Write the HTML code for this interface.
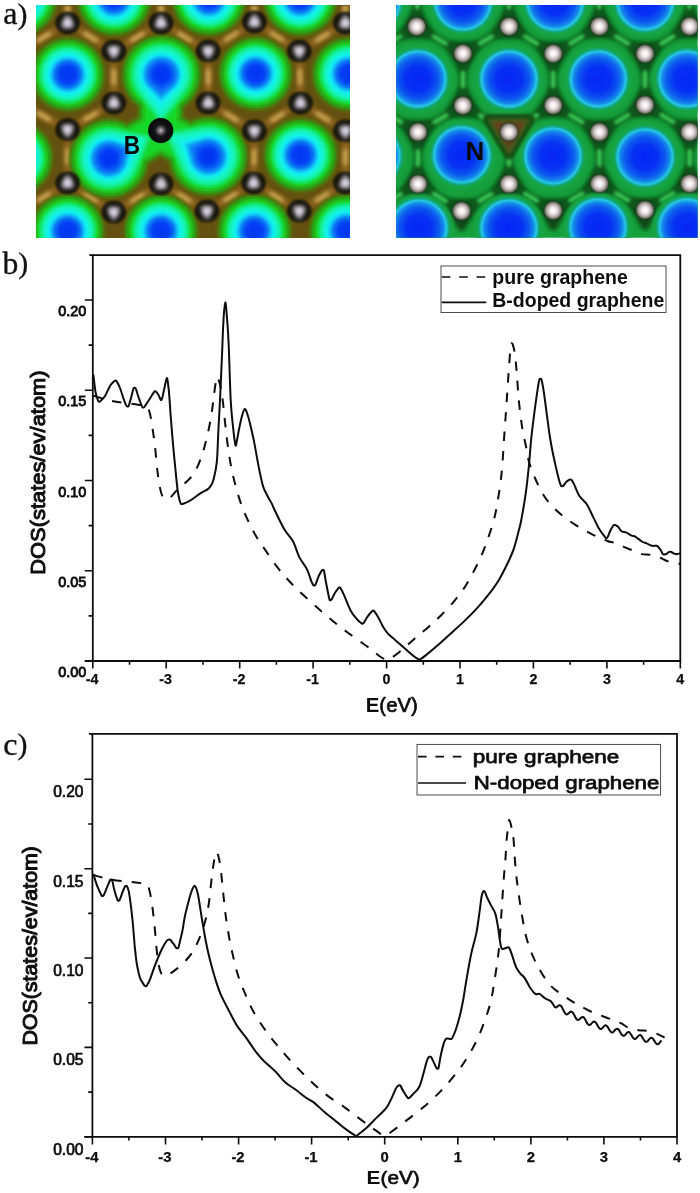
<!DOCTYPE html>
<html><head><meta charset="utf-8"><title>Figure</title>
<style>
html,body{margin:0;padding:0;background:#fff}
svg{display:block}
</style></head><body>
<svg width="700" height="1193" viewBox="0 0 700 1193">
<rect width="700" height="1193" fill="#fff"/>
<defs>
<radialGradient id="hA">
<stop offset="0" stop-color="#0434f2"/>
<stop offset="0.28" stop-color="#0440f4"/>
<stop offset="0.44" stop-color="#0a78f4"/>
<stop offset="0.55" stop-color="#10c4f4"/>
<stop offset="0.64" stop-color="#12f0f0"/>
<stop offset="0.76" stop-color="#14f4c8"/>
<stop offset="0.85" stop-color="#14f098"/>
<stop offset="0.93" stop-color="#14e058"/>
<stop offset="1" stop-color="#14d82c"/>
</radialGradient>
<radialGradient id="hA2">
<stop offset="0" stop-color="#0a8cf4"/>
<stop offset="0.35" stop-color="#10d4f4"/>
<stop offset="0.6" stop-color="#12f0e8"/>
<stop offset="0.8" stop-color="#14eca0"/>
<stop offset="0.95" stop-color="#14dc48"/>
<stop offset="1" stop-color="#14d82c" stop-opacity="0"/>
</radialGradient>
<radialGradient id="hB">
<stop offset="0" stop-color="#0626f6"/>
<stop offset="0.40" stop-color="#0630f4"/>
<stop offset="0.64" stop-color="#0c58ee"/>
<stop offset="0.78" stop-color="#1488ea"/>
<stop offset="0.855" stop-color="#22bce6"/>
<stop offset="0.885" stop-color="#24c8da"/>
<stop offset="0.93" stop-color="#14aa90"/>
<stop offset="1" stop-color="#12a450"/>
</radialGradient>
<radialGradient id="aA" cx="0.5" cy="0.5">
<stop offset="0" stop-color="#e6e2f0"/>
<stop offset="0.45" stop-color="#c4c0cc"/>
<stop offset="0.8" stop-color="#7a7678"/>
<stop offset="1" stop-color="#3a3630" stop-opacity="0"/>
</radialGradient>
<radialGradient id="aB">
<stop offset="0" stop-color="#ffffff"/>
<stop offset="0.28" stop-color="#f4ecee"/>
<stop offset="0.55" stop-color="#c8bec0"/>
<stop offset="0.8" stop-color="#7c7c72"/>
<stop offset="1" stop-color="#2a3a26" stop-opacity="0"/>
</radialGradient>
<radialGradient id="bAt">
<stop offset="0" stop-color="#c8b4c4"/>
<stop offset="0.22" stop-color="#6c6468"/>
<stop offset="0.45" stop-color="#15151a"/>
<stop offset="0.92" stop-color="#060a06"/>
<stop offset="1" stop-color="#041004" stop-opacity="0.2"/>
</radialGradient>
<filter id="bl05" x="-20%" y="-20%" width="140%" height="140%"><feGaussianBlur stdDeviation="0.7"/></filter>
<filter id="bl15" x="-20%" y="-20%" width="140%" height="140%"><feGaussianBlur stdDeviation="1.6"/></filter>
<filter id="bl1" x="-20%" y="-20%" width="140%" height="140%"><feGaussianBlur stdDeviation="1.2"/></filter>
<filter id="bl2" x="-30%" y="-30%" width="160%" height="160%"><feGaussianBlur stdDeviation="2.2"/></filter>
<filter id="bl4" x="-30%" y="-30%" width="160%" height="160%"><feGaussianBlur stdDeviation="4"/></filter>
<clipPath id="cA"><rect x="36" y="5" width="314" height="233"/></clipPath>
<clipPath id="cB"><rect x="396" y="5" width="301.6" height="232.7"/></clipPath>
</defs>
<g clip-path="url(#cA)">
<rect x="30" y="0" width="326" height="244" fill="#645010"/>
<path d="M67.6,23.0 L20.0,51.0M67.6,23.0 L113.8,51.0M67.6,23.0 L67.6,-6.0M161.0,23.0 L113.8,51.0M161.0,23.0 L208.2,51.0M161.0,23.0 L161.0,-6.0M254.4,22.0 L208.2,51.0M254.4,22.0 L299.3,51.0M254.4,22.0 L254.0,-6.0M345.4,23.0 L299.3,51.0M345.4,23.0 L345.0,-6.0M20.0,51.0 L20.0,103.0M113.8,51.0 L113.8,103.0M208.2,51.0 L208.2,103.0M299.3,51.0 L300.5,103.0M20.0,103.0 L67.6,129.6M113.8,103.0 L67.6,129.6M208.2,103.0 L254.4,130.8M300.5,103.0 L254.4,130.8M300.5,103.0 L345.4,130.8M67.6,129.6 L67.6,183.0M254.4,130.8 L253.6,183.0M345.4,130.8 L345.4,183.0M67.6,183.0 L20.0,211.0M67.6,183.0 L113.8,212.0M161.0,184.0 L113.8,212.0M161.0,184.0 L207.0,211.0M253.6,183.0 L207.0,211.0M253.6,183.0 L299.3,211.0M345.4,183.0 L299.3,211.0" stroke="#8c621c" stroke-width="7" fill="none" filter="url(#bl2)"/>
<path d="M49.4,33.7 L38.2,40.3M85.1,33.6 L96.3,40.4M67.6,15.0 L67.6,2.0M143.0,33.7 L131.8,40.3M179.0,33.7 L190.2,40.3M161.0,15.0 L161.0,2.0M236.8,33.0 L225.8,40.0M271.4,33.0 L282.3,40.0M254.3,14.5 L254.1,1.5M327.9,33.6 L316.8,40.4M345.3,15.0 L345.1,2.0M20.0,70.5 L20.0,83.5M113.8,70.5 L113.8,83.5M208.2,70.5 L208.2,83.5M299.8,70.5 L300.0,83.5M38.1,113.1 L49.5,119.5M96.3,113.1 L85.1,119.5M225.7,113.5 L236.9,120.3M283.0,113.5 L271.9,120.3M317.4,113.5 L328.5,120.3M67.6,149.8 L67.6,162.8M254.1,150.4 L253.9,163.4M345.4,150.4 L345.4,163.4M49.4,193.7 L38.2,200.3M85.2,194.0 L96.2,201.0M143.0,194.7 L131.8,201.3M178.4,194.2 L189.6,200.8M235.9,193.7 L224.7,200.3M270.9,193.6 L282.0,200.4M327.9,193.6 L316.8,200.4" stroke="#dcba60" stroke-width="3.8" stroke-linecap="round" fill="none" filter="url(#bl2)"/>
<g filter="url(#bl15)" fill="#487c0e" stroke="#487c0e">
<circle cx="20.0" cy="-1.0" r="37.6" stroke="none"/>
<circle cx="114.0" cy="-1.0" r="37.6" stroke="none"/>
<circle cx="209.0" cy="-1.0" r="37.6" stroke="none"/>
<circle cx="300.0" cy="-1.0" r="37.6" stroke="none"/>
<circle cx="-26.0" cy="74.5" r="37.6" stroke="none"/>
<circle cx="67.8" cy="74.5" r="37.6" stroke="none"/>
<circle cx="161.5" cy="74.5" r="40.4" stroke="none"/>
<circle cx="255.6" cy="73.5" r="37.6" stroke="none"/>
<circle cx="349.0" cy="74.0" r="37.6" stroke="none"/>
<circle cx="16.0" cy="158.0" r="37.6" stroke="none"/>
<circle cx="109.0" cy="158.5" r="40.4" stroke="none"/>
<circle cx="208.2" cy="156.3" r="40.4" stroke="none"/>
<circle cx="300.5" cy="155.0" r="37.6" stroke="none"/>
<circle cx="394.0" cy="156.0" r="37.6" stroke="none"/>
<circle cx="67.6" cy="231.0" r="37.6" stroke="none"/>
<circle cx="161.0" cy="231.0" r="37.6" stroke="none"/>
<circle cx="254.4" cy="231.0" r="37.6" stroke="none"/>
<circle cx="346.5" cy="231.0" r="37.6" stroke="none"/>
<path d="M160.7,130.5 L161.3,92 M160.7,130.5 L124,151 M160.7,130.5 L196,150" stroke-width="47" stroke-linecap="round" fill="none"/>
</g>
<g filter="url(#bl05)" fill="#2aa012" stroke="#2aa012">
<circle cx="20.0" cy="-1.0" r="35.0" stroke="none"/>
<circle cx="114.0" cy="-1.0" r="35.0" stroke="none"/>
<circle cx="209.0" cy="-1.0" r="35.0" stroke="none"/>
<circle cx="300.0" cy="-1.0" r="35.0" stroke="none"/>
<circle cx="-26.0" cy="74.5" r="35.0" stroke="none"/>
<circle cx="67.8" cy="74.5" r="35.0" stroke="none"/>
<circle cx="161.5" cy="74.5" r="37.8" stroke="none"/>
<circle cx="255.6" cy="73.5" r="35.0" stroke="none"/>
<circle cx="349.0" cy="74.0" r="35.0" stroke="none"/>
<circle cx="16.0" cy="158.0" r="35.0" stroke="none"/>
<circle cx="109.0" cy="158.5" r="37.8" stroke="none"/>
<circle cx="208.2" cy="156.3" r="37.8" stroke="none"/>
<circle cx="300.5" cy="155.0" r="35.0" stroke="none"/>
<circle cx="394.0" cy="156.0" r="35.0" stroke="none"/>
<circle cx="67.6" cy="231.0" r="35.0" stroke="none"/>
<circle cx="161.0" cy="231.0" r="35.0" stroke="none"/>
<circle cx="254.4" cy="231.0" r="35.0" stroke="none"/>
<circle cx="346.5" cy="231.0" r="35.0" stroke="none"/>
<path d="M160.7,130.5 L161.3,92 M160.7,130.5 L124,151 M160.7,130.5 L196,150" stroke-width="42" stroke-linecap="round" fill="none"/>
</g>
<g filter="url(#bl05)" fill="#22c21c" stroke="#22c21c">
<circle cx="20.0" cy="-1.0" r="32.2" stroke="none"/>
<circle cx="114.0" cy="-1.0" r="32.2" stroke="none"/>
<circle cx="209.0" cy="-1.0" r="32.2" stroke="none"/>
<circle cx="300.0" cy="-1.0" r="32.2" stroke="none"/>
<circle cx="-26.0" cy="74.5" r="32.2" stroke="none"/>
<circle cx="67.8" cy="74.5" r="32.2" stroke="none"/>
<circle cx="161.5" cy="74.5" r="35.0" stroke="none"/>
<circle cx="255.6" cy="73.5" r="32.2" stroke="none"/>
<circle cx="349.0" cy="74.0" r="32.2" stroke="none"/>
<circle cx="16.0" cy="158.0" r="32.2" stroke="none"/>
<circle cx="109.0" cy="158.5" r="35.0" stroke="none"/>
<circle cx="208.2" cy="156.3" r="35.0" stroke="none"/>
<circle cx="300.5" cy="155.0" r="32.2" stroke="none"/>
<circle cx="394.0" cy="156.0" r="32.2" stroke="none"/>
<circle cx="67.6" cy="231.0" r="32.2" stroke="none"/>
<circle cx="161.0" cy="231.0" r="32.2" stroke="none"/>
<circle cx="254.4" cy="231.0" r="32.2" stroke="none"/>
<circle cx="346.5" cy="231.0" r="32.2" stroke="none"/>
<path d="M160.7,130.5 L161.3,92 M160.7,130.5 L124,151 M160.7,130.5 L196,150" stroke-width="37" stroke-linecap="round" fill="none"/>
</g>
<g filter="url(#bl05)" fill="#14d82c" stroke="#14d82c">
<circle cx="20.0" cy="-1.0" r="29.6" stroke="none"/>
<circle cx="114.0" cy="-1.0" r="29.6" stroke="none"/>
<circle cx="209.0" cy="-1.0" r="29.6" stroke="none"/>
<circle cx="300.0" cy="-1.0" r="29.6" stroke="none"/>
<circle cx="-26.0" cy="74.5" r="29.6" stroke="none"/>
<circle cx="67.8" cy="74.5" r="29.6" stroke="none"/>
<circle cx="161.5" cy="74.5" r="32.4" stroke="none"/>
<circle cx="255.6" cy="73.5" r="29.6" stroke="none"/>
<circle cx="349.0" cy="74.0" r="29.6" stroke="none"/>
<circle cx="16.0" cy="158.0" r="29.6" stroke="none"/>
<circle cx="109.0" cy="158.5" r="32.4" stroke="none"/>
<circle cx="208.2" cy="156.3" r="32.4" stroke="none"/>
<circle cx="300.5" cy="155.0" r="29.6" stroke="none"/>
<circle cx="394.0" cy="156.0" r="29.6" stroke="none"/>
<circle cx="67.6" cy="231.0" r="29.6" stroke="none"/>
<circle cx="161.0" cy="231.0" r="29.6" stroke="none"/>
<circle cx="254.4" cy="231.0" r="29.6" stroke="none"/>
<circle cx="346.5" cy="231.0" r="29.6" stroke="none"/>
<path d="M160.7,130.5 L161.3,92 M160.7,130.5 L124,151 M160.7,130.5 L196,150" stroke-width="31" stroke-linecap="round" fill="none"/>
</g>
<circle cx="20.0" cy="-1.0" r="30" fill="url(#hA)"/>
<circle cx="114.0" cy="-1.0" r="30" fill="url(#hA)"/>
<circle cx="209.0" cy="-1.0" r="30" fill="url(#hA)"/>
<circle cx="300.0" cy="-1.0" r="30" fill="url(#hA)"/>
<circle cx="-26.0" cy="74.5" r="30" fill="url(#hA)"/>
<circle cx="67.8" cy="74.5" r="30" fill="url(#hA)"/>
<circle cx="255.6" cy="73.5" r="30" fill="url(#hA)"/>
<circle cx="349.0" cy="74.0" r="30" fill="url(#hA)"/>
<circle cx="16.0" cy="158.0" r="30" fill="url(#hA)"/>
<circle cx="300.5" cy="155.0" r="30" fill="url(#hA)"/>
<circle cx="394.0" cy="156.0" r="30" fill="url(#hA)"/>
<circle cx="67.6" cy="231.0" r="30" fill="url(#hA)"/>
<circle cx="161.0" cy="231.0" r="30" fill="url(#hA)"/>
<circle cx="254.4" cy="231.0" r="30" fill="url(#hA)"/>
<circle cx="346.5" cy="231.0" r="30" fill="url(#hA)"/>
<path d="M160.8,124.2 L137.1,93.1 A30.7,30.7 0 1 1 185.4,93.8 ZM151.6,135.4 L137.4,170.1 A30.7,30.7 0 1 1 114.8,128.4 ZM164.5,132.6 L203.1,126.0 A30.7,30.7 0 1 1 180.0,168.5 Z" fill="#14e058" stroke="#14e058" stroke-width="1.5" stroke-linejoin="round" filter="url(#bl1)"/>
<path d="M160.9,119.9 L139.2,91.5 A28.1,28.1 0 1 1 183.3,92.1 ZM148.0,137.4 L135.0,169.1 A28.1,28.1 0 1 1 114.3,130.9 ZM168.3,134.6 L203.5,128.6 A28.1,28.1 0 1 1 182.5,167.4 Z" fill="#14f098" stroke="#14f098" stroke-width="1.5" stroke-linejoin="round" filter="url(#bl1)"/>
<path d="M160.9,115.1 L141.5,89.7 A25.1,25.1 0 1 1 181.0,90.3 ZM143.8,139.6 L132.2,168.0 A25.1,25.1 0 1 1 113.7,133.9 ZM172.5,136.9 L204.0,131.6 A25.1,25.1 0 1 1 185.2,166.2 Z" fill="#14f4c8" stroke="#14f4c8" stroke-width="1.5" stroke-linejoin="round" filter="url(#bl1)"/>
<path d="M161.0,106.6 L145.4,88.2 A21.1,21.1 0 1 1 177.2,88.6 ZM136.6,143.5 L128.9,165.5 A21.1,21.1 0 1 1 114.0,138.0 ZM180.0,141.0 L203.6,135.7 A21.1,21.1 0 1 1 188.4,163.6 Z" fill="#12f0f0" stroke="#12f0f0" stroke-width="1.5" stroke-linejoin="round" filter="url(#bl1)"/>
<path d="M161.1,100.3 L148.4,87.1 A18.2,18.2 0 1 1 174.2,87.5 ZM131.3,146.4 L126.5,163.5 A18.2,18.2 0 1 1 114.4,141.2 ZM185.5,144.0 L203.1,138.9 A18.2,18.2 0 1 1 190.8,161.5 Z" fill="#10c4f4" stroke="#10c4f4" stroke-width="1.5" stroke-linejoin="round" filter="url(#bl1)"/>
<path d="M161.2,96.6 L150.3,86.3 A16.3,16.3 0 1 1 172.4,86.6 ZM128.2,148.1 L124.8,162.3 A16.3,16.3 0 1 1 114.5,143.2 ZM188.7,145.7 L202.9,140.9 A16.3,16.3 0 1 1 192.4,160.3 Z" fill="#0d9cf4" stroke="#0d9cf4" stroke-width="1.5" stroke-linejoin="round" filter="url(#bl1)"/>
<path d="M161.2,93.4 L152.0,85.5 A14.5,14.5 0 1 1 170.6,85.8 ZM125.5,149.6 L123.3,161.2 A14.5,14.5 0 1 1 114.5,145.1 ZM191.6,147.3 L202.8,142.8 A14.5,14.5 0 1 1 194.0,159.1 Z" fill="#0a78f4" stroke="#0a78f4" stroke-width="1.5" stroke-linejoin="round" filter="url(#bl1)"/>
<path d="M161.3,88.9 L154.6,84.2 A11.9,11.9 0 1 1 168.1,84.4 ZM121.6,151.7 L120.8,159.7 A11.9,11.9 0 1 1 114.5,147.9 ZM195.5,149.4 L202.8,145.7 A11.9,11.9 0 1 1 196.4,157.6 Z" fill="#075cf4" stroke="#075cf4" stroke-width="1.5" stroke-linejoin="round" filter="url(#bl1)"/>
<path d="M161.3,85.1 L156.8,82.5 A9.2,9.2 0 1 1 165.9,82.6 ZM118.3,153.4 L118.2,158.7 A9.2,9.2 0 1 1 113.9,150.7 ZM198.9,151.2 L203.3,148.5 A9.2,9.2 0 1 1 199.0,156.5 Z" fill="#0440f4" stroke="#0440f4" stroke-width="1.5" stroke-linejoin="round" filter="url(#bl1)"/>
<path d="M161.4,80.8 L158.7,79.2 A5.5,5.5 0 1 1 164.1,79.3 ZM114.6,155.5 L114.5,158.6 A5.5,5.5 0 1 1 111.9,153.8 ZM202.6,153.3 L205.3,151.6 A5.5,5.5 0 1 1 202.7,156.4 Z" fill="#0434f2" stroke="#0434f2" stroke-width="1.5" stroke-linejoin="round" filter="url(#bl1)"/>
<g filter="url(#bl1)">
<ellipse cx="67.6" cy="23.0" rx="12.3" ry="11.3" fill="#17120a"/>
<ellipse cx="161.0" cy="23.0" rx="12.3" ry="11.3" fill="#17120a"/>
<ellipse cx="254.4" cy="22.0" rx="12.3" ry="11.3" fill="#17120a"/>
<ellipse cx="345.4" cy="23.0" rx="12.3" ry="11.3" fill="#17120a"/>
<ellipse cx="20.0" cy="51.0" rx="12.3" ry="11.3" fill="#17120a"/>
<ellipse cx="113.8" cy="51.0" rx="12.3" ry="11.3" fill="#17120a"/>
<ellipse cx="208.2" cy="51.0" rx="12.3" ry="11.3" fill="#17120a"/>
<ellipse cx="299.3" cy="51.0" rx="12.3" ry="11.3" fill="#17120a"/>
<ellipse cx="20.0" cy="103.0" rx="12.3" ry="11.3" fill="#17120a"/>
<ellipse cx="113.8" cy="103.0" rx="12.3" ry="11.3" fill="#17120a"/>
<ellipse cx="208.2" cy="103.0" rx="12.3" ry="11.3" fill="#17120a"/>
<ellipse cx="300.5" cy="103.0" rx="12.3" ry="11.3" fill="#17120a"/>
<ellipse cx="67.6" cy="129.6" rx="12.3" ry="11.3" fill="#17120a"/>
<ellipse cx="254.4" cy="130.8" rx="12.3" ry="11.3" fill="#17120a"/>
<ellipse cx="345.4" cy="130.8" rx="12.3" ry="11.3" fill="#17120a"/>
<ellipse cx="67.6" cy="183.0" rx="12.3" ry="11.3" fill="#17120a"/>
<ellipse cx="161.0" cy="184.0" rx="12.3" ry="11.3" fill="#17120a"/>
<ellipse cx="253.6" cy="183.0" rx="12.3" ry="11.3" fill="#17120a"/>
<ellipse cx="345.4" cy="183.0" rx="12.3" ry="11.3" fill="#17120a"/>
<ellipse cx="20.0" cy="211.0" rx="12.3" ry="11.3" fill="#17120a"/>
<ellipse cx="113.8" cy="212.0" rx="12.3" ry="11.3" fill="#17120a"/>
<ellipse cx="207.0" cy="211.0" rx="12.3" ry="11.3" fill="#17120a"/>
<ellipse cx="299.3" cy="211.0" rx="12.3" ry="11.3" fill="#17120a"/>
<ellipse cx="67.6" cy="262.0" rx="12.3" ry="11.3" fill="#17120a"/>
<ellipse cx="161.0" cy="262.0" rx="12.3" ry="11.3" fill="#17120a"/>
<ellipse cx="254.0" cy="262.0" rx="12.3" ry="11.3" fill="#17120a"/>
<ellipse cx="345.0" cy="262.0" rx="12.3" ry="11.3" fill="#17120a"/>
<ellipse cx="67.6" cy="-6.0" rx="12.3" ry="11.3" fill="#17120a"/>
<ellipse cx="161.0" cy="-6.0" rx="12.3" ry="11.3" fill="#17120a"/>
<ellipse cx="254.0" cy="-6.0" rx="12.3" ry="11.3" fill="#17120a"/>
<ellipse cx="345.0" cy="-6.0" rx="12.3" ry="11.3" fill="#17120a"/>
</g>
<path d="M67.6,17.4 L63.9,25.6 L71.3,25.6 ZM161.0,17.4 L157.3,25.6 L164.7,25.6 ZM254.4,16.4 L250.7,24.6 L258.1,24.6 ZM345.4,17.4 L341.7,25.6 L349.1,25.6 ZM20.0,56.5 L16.3,48.4 L23.7,48.4 ZM113.8,56.5 L110.1,48.4 L117.5,48.4 ZM208.2,56.5 L204.5,48.4 L211.9,48.4 ZM299.3,56.5 L295.6,48.4 L303.0,48.4 ZM20.0,97.5 L16.3,105.6 L23.7,105.6 ZM113.8,97.5 L110.1,105.6 L117.5,105.6 ZM208.2,97.5 L204.5,105.6 L211.9,105.6 ZM300.5,97.5 L296.8,105.6 L304.2,105.6 ZM67.6,135.2 L63.9,127.0 L71.3,127.0 ZM254.4,136.4 L250.7,128.2 L258.1,128.2 ZM345.4,136.4 L341.7,128.2 L349.1,128.2 ZM67.6,177.4 L63.9,185.6 L71.3,185.6 ZM161.0,178.4 L157.3,186.6 L164.7,186.6 ZM253.6,177.4 L249.9,185.6 L257.3,185.6 ZM345.4,177.4 L341.7,185.6 L349.1,185.6 ZM20.0,216.6 L16.3,208.4 L23.7,208.4 ZM113.8,217.6 L110.1,209.4 L117.5,209.4 ZM207.0,216.6 L203.3,208.4 L210.7,208.4 ZM299.3,216.6 L295.6,208.4 L303.0,208.4 ZM67.6,267.6 L63.9,259.4 L71.3,259.4 ZM161.0,267.6 L157.3,259.4 L164.7,259.4 ZM254.0,267.6 L250.3,259.4 L257.7,259.4 ZM345.0,267.6 L341.3,259.4 L348.7,259.4 ZM67.6,-0.4 L63.9,-8.6 L71.3,-8.6 ZM161.0,-0.4 L157.3,-8.6 L164.7,-8.6 ZM254.0,-0.4 L250.3,-8.6 L257.7,-8.6 ZM345.0,-0.4 L341.3,-8.6 L348.7,-8.6 Z" fill="#9a969e" stroke="#9a969e" stroke-width="5" stroke-linejoin="round" filter="url(#bl2)"/>
<g filter="url(#bl2)">
<circle cx="67.6" cy="23.0" r="3.8" fill="#e0dcee"/>
<circle cx="161.0" cy="23.0" r="3.8" fill="#e0dcee"/>
<circle cx="254.4" cy="22.0" r="3.8" fill="#e0dcee"/>
<circle cx="345.4" cy="23.0" r="3.8" fill="#e0dcee"/>
<circle cx="20.0" cy="51.0" r="3.8" fill="#e0dcee"/>
<circle cx="113.8" cy="51.0" r="3.8" fill="#e0dcee"/>
<circle cx="208.2" cy="51.0" r="3.8" fill="#e0dcee"/>
<circle cx="299.3" cy="51.0" r="3.8" fill="#e0dcee"/>
<circle cx="20.0" cy="103.0" r="3.8" fill="#e0dcee"/>
<circle cx="113.8" cy="103.0" r="3.8" fill="#e0dcee"/>
<circle cx="208.2" cy="103.0" r="3.8" fill="#e0dcee"/>
<circle cx="300.5" cy="103.0" r="3.8" fill="#e0dcee"/>
<circle cx="67.6" cy="129.6" r="3.8" fill="#e0dcee"/>
<circle cx="254.4" cy="130.8" r="3.8" fill="#e0dcee"/>
<circle cx="345.4" cy="130.8" r="3.8" fill="#e0dcee"/>
<circle cx="67.6" cy="183.0" r="3.8" fill="#e0dcee"/>
<circle cx="161.0" cy="184.0" r="3.8" fill="#e0dcee"/>
<circle cx="253.6" cy="183.0" r="3.8" fill="#e0dcee"/>
<circle cx="345.4" cy="183.0" r="3.8" fill="#e0dcee"/>
<circle cx="20.0" cy="211.0" r="3.8" fill="#e0dcee"/>
<circle cx="113.8" cy="212.0" r="3.8" fill="#e0dcee"/>
<circle cx="207.0" cy="211.0" r="3.8" fill="#e0dcee"/>
<circle cx="299.3" cy="211.0" r="3.8" fill="#e0dcee"/>
<circle cx="67.6" cy="262.0" r="3.8" fill="#e0dcee"/>
<circle cx="161.0" cy="262.0" r="3.8" fill="#e0dcee"/>
<circle cx="254.0" cy="262.0" r="3.8" fill="#e0dcee"/>
<circle cx="345.0" cy="262.0" r="3.8" fill="#e0dcee"/>
<circle cx="67.6" cy="-6.0" r="3.8" fill="#e0dcee"/>
<circle cx="161.0" cy="-6.0" r="3.8" fill="#e0dcee"/>
<circle cx="254.0" cy="-6.0" r="3.8" fill="#e0dcee"/>
<circle cx="345.0" cy="-6.0" r="3.8" fill="#e0dcee"/>
</g>
<circle cx="160.7" cy="130.5" r="13" fill="url(#bAt)"/>
</g>
<text x="123.7" y="154" font-family="'Liberation Sans',sans-serif" font-weight="bold" font-size="25.5" fill="#0a0a0a" textLength="16.3" lengthAdjust="spacingAndGlyphs">B</text>
<g clip-path="url(#cB)">
<rect x="390" y="0" width="314" height="244" fill="#16a03c"/>
<path d="M416.7,10.5 L402.8,34.5 L430.6,34.5 ZM509.0,10.5 L495.1,34.5 L522.9,34.5 ZM599.4,10.3 L585.5,34.3 L613.3,34.3 ZM689.7,10.3 L675.8,34.3 L703.6,34.3 ZM462.9,69.5 L449.0,45.5 L476.8,45.5 ZM553.2,69.6 L539.3,45.6 L567.1,45.6 ZM645.0,69.7 L631.1,45.7 L658.9,45.7 ZM462.9,89.5 L449.0,113.5 L476.8,113.5 ZM553.2,89.3 L539.3,113.3 L567.1,113.3 ZM645.0,89.0 L631.1,113.0 L658.9,113.0 ZM418.0,148.0 L404.1,124.0 L431.9,124.0 ZM599.4,148.0 L585.5,124.0 L613.3,124.0 ZM689.7,148.0 L675.8,124.0 L703.6,124.0 ZM418.0,168.0 L404.1,192.0 L431.9,192.0 ZM509.0,168.0 L495.1,192.0 L522.9,192.0 ZM599.4,167.6 L585.5,191.6 L613.3,191.6 ZM689.7,167.6 L675.8,191.6 L703.6,191.6 ZM461.6,227.0 L447.7,203.0 L475.5,203.0 ZM553.2,226.5 L539.3,202.5 L567.1,202.5 ZM645.0,226.0 L631.1,202.0 L658.9,202.0 ZM372.0,69.5 L358.1,45.5 L385.9,45.5 ZM372.0,89.5 L358.1,113.5 L385.9,113.5 ZM372.0,227.0 L358.1,203.0 L385.9,203.0 ZM736.0,69.5 L722.1,45.5 L749.9,45.5 ZM736.0,89.0 L722.1,113.0 L749.9,113.0 ZM736.0,226.0 L722.1,202.0 L749.9,202.0 ZM418.0,-9.0 L404.1,-33.0 L431.9,-33.0 ZM509.0,-9.0 L495.1,-33.0 L522.9,-33.0 ZM599.0,-9.0 L585.1,-33.0 L612.9,-33.0 ZM689.0,-9.0 L675.1,-33.0 L702.9,-33.0 ZM418.0,278.0 L404.1,254.0 L431.9,254.0 ZM509.0,278.0 L495.1,254.0 L522.9,254.0 ZM599.0,278.0 L585.1,254.0 L612.9,254.0 ZM689.0,278.0 L675.1,254.0 L702.9,254.0 Z" fill="#0b4613" stroke="#0b4613" stroke-width="8" stroke-linejoin="round" filter="url(#bl2)"/>
<path d="M416.7,26.5 L462.9,53.5M416.7,26.5 L372.0,53.5M416.7,26.5 L418.0,-25.0M509.0,26.5 L462.9,53.5M509.0,26.5 L553.2,53.6M509.0,26.5 L509.0,-25.0M599.4,26.3 L553.2,53.6M599.4,26.3 L645.0,53.7M599.4,26.3 L599.0,-25.0M689.7,26.3 L645.0,53.7M689.7,26.3 L736.0,53.5M689.7,26.3 L689.0,-25.0M462.9,53.5 L462.9,105.5M553.2,53.6 L553.2,105.3M645.0,53.7 L645.0,105.0M462.9,105.5 L418.0,132.0M462.9,105.5 L509.0,132.0M553.2,105.3 L599.4,132.0M553.2,105.3 L509.0,132.0M645.0,105.0 L599.4,132.0M645.0,105.0 L689.7,132.0M418.0,132.0 L418.0,184.0M418.0,132.0 L372.0,105.5M599.4,132.0 L599.4,183.6M689.7,132.0 L689.7,183.6M689.7,132.0 L736.0,105.0M418.0,184.0 L461.6,211.0M418.0,184.0 L372.0,211.0M509.0,184.0 L461.6,211.0M509.0,184.0 L553.2,210.5M509.0,184.0 L509.0,132.0M599.4,183.6 L553.2,210.5M599.4,183.6 L645.0,210.0M689.7,183.6 L645.0,210.0M689.7,183.6 L736.0,210.0M372.0,53.5 L372.0,105.5M736.0,53.5 L736.0,105.0" stroke="#0e5a1c" stroke-width="8" fill="none" filter="url(#bl2)" opacity="0.9"/>
<path d="M433.8,36.5 L445.8,43.5M400.3,36.4 L388.4,43.6M417.2,7.7 L417.5,-6.2M492.0,36.5 L479.9,43.5M525.1,36.4 L537.1,43.7M509.0,7.8 L509.0,-6.2M582.3,36.4 L570.3,43.5M616.2,36.4 L628.2,43.6M599.3,7.6 L599.1,-6.3M673.3,36.3 L661.4,43.7M706.8,36.4 L718.9,43.4M689.4,7.6 L689.3,-6.3M462.9,72.5 L462.9,86.5M553.2,72.5 L553.2,86.5M645.0,72.3 L645.0,86.3M446.5,115.2 L434.4,122.3M479.9,115.3 L492.0,122.2M570.2,115.1 L582.4,122.2M537.1,115.0 L525.1,122.3M628.2,114.9 L616.2,122.1M661.4,114.9 L673.3,122.1M418.0,151.0 L418.0,165.0M401.1,122.2 L388.9,115.3M599.4,150.8 L599.4,164.8M689.7,150.8 L689.7,164.8M706.8,122.0 L718.9,115.0M433.8,193.8 L445.8,201.2M401.0,194.0 L389.0,201.0M491.4,194.0 L479.2,201.0M525.1,193.7 L537.1,200.8M509.0,165.0 L509.0,151.0M582.3,193.5 L570.3,200.6M616.1,193.3 L628.3,200.3M673.4,193.2 L661.3,200.4M706.8,193.3 L718.9,200.3M372.0,72.5 L372.0,86.5M736.0,72.2 L736.0,86.2" stroke="#3acc54" stroke-width="4" stroke-linecap="round" fill="none" filter="url(#bl15)"/>
<g filter="url(#bl15)" fill="#12a444">
<circle cx="372.0" cy="2.0" r="34.6"/>
<circle cx="463.0" cy="2.0" r="34.6"/>
<circle cx="555.0" cy="2.0" r="34.6"/>
<circle cx="645.0" cy="2.0" r="34.6"/>
<circle cx="736.0" cy="2.0" r="34.6"/>
<circle cx="327.0" cy="79.0" r="34.6"/>
<circle cx="418.0" cy="79.0" r="34.6"/>
<circle cx="509.0" cy="79.0" r="34.6"/>
<circle cx="598.3" cy="79.0" r="34.6"/>
<circle cx="687.0" cy="79.0" r="34.6"/>
<circle cx="372.0" cy="156.0" r="34.6"/>
<circle cx="461.6" cy="155.0" r="34.6"/>
<circle cx="553.0" cy="156.0" r="34.6"/>
<circle cx="645.0" cy="157.0" r="34.6"/>
<circle cx="736.0" cy="157.0" r="34.6"/>
<circle cx="419.0" cy="228.0" r="34.6"/>
<circle cx="509.0" cy="228.0" r="34.6"/>
<circle cx="598.0" cy="227.0" r="34.6"/>
<circle cx="687.0" cy="227.0" r="34.6"/>
</g>
<circle cx="372.0" cy="2.0" r="31.5" fill="url(#hB)"/>
<circle cx="463.0" cy="2.0" r="31.5" fill="url(#hB)"/>
<circle cx="555.0" cy="2.0" r="31.5" fill="url(#hB)"/>
<circle cx="645.0" cy="2.0" r="31.5" fill="url(#hB)"/>
<circle cx="736.0" cy="2.0" r="31.5" fill="url(#hB)"/>
<circle cx="327.0" cy="79.0" r="31.5" fill="url(#hB)"/>
<circle cx="418.0" cy="79.0" r="31.5" fill="url(#hB)"/>
<circle cx="509.0" cy="79.0" r="31.5" fill="url(#hB)"/>
<circle cx="598.3" cy="79.0" r="31.5" fill="url(#hB)"/>
<circle cx="687.0" cy="79.0" r="31.5" fill="url(#hB)"/>
<circle cx="372.0" cy="156.0" r="31.5" fill="url(#hB)"/>
<circle cx="461.6" cy="155.0" r="31.5" fill="url(#hB)"/>
<circle cx="553.0" cy="156.0" r="31.5" fill="url(#hB)"/>
<circle cx="645.0" cy="157.0" r="31.5" fill="url(#hB)"/>
<circle cx="736.0" cy="157.0" r="31.5" fill="url(#hB)"/>
<circle cx="419.0" cy="228.0" r="31.5" fill="url(#hB)"/>
<circle cx="509.0" cy="228.0" r="31.5" fill="url(#hB)"/>
<circle cx="598.0" cy="227.0" r="31.5" fill="url(#hB)"/>
<circle cx="687.0" cy="227.0" r="31.5" fill="url(#hB)"/>
<g filter="url(#bl1)">
<path d="M488.5,119.5 L529.5,119.5 L509,154 Z" fill="#195214" stroke="#195214" stroke-width="11" stroke-linejoin="round"/>
<path d="M491,121 L527,121 L509,151.5 Z" fill="#46581a" stroke="#46581a" stroke-width="4" stroke-linejoin="round"/>
<path d="M495.5,123.5 L522.5,123.5 L509,145.5 Z" fill="#66421a" stroke="#66421a" stroke-width="3" stroke-linejoin="round"/>
</g>
<g filter="url(#bl1)">
<circle cx="416.7" cy="26.5" r="9.4" fill="#243420"/>
<circle cx="509.0" cy="26.5" r="9.4" fill="#243420"/>
<circle cx="599.4" cy="26.3" r="9.4" fill="#243420"/>
<circle cx="689.7" cy="26.3" r="9.4" fill="#243420"/>
<circle cx="462.9" cy="53.5" r="9.4" fill="#243420"/>
<circle cx="553.2" cy="53.6" r="9.4" fill="#243420"/>
<circle cx="645.0" cy="53.7" r="9.4" fill="#243420"/>
<circle cx="462.9" cy="105.5" r="9.4" fill="#243420"/>
<circle cx="553.2" cy="105.3" r="9.4" fill="#243420"/>
<circle cx="645.0" cy="105.0" r="9.4" fill="#243420"/>
<circle cx="418.0" cy="132.0" r="9.4" fill="#243420"/>
<circle cx="599.4" cy="132.0" r="9.4" fill="#243420"/>
<circle cx="689.7" cy="132.0" r="9.4" fill="#243420"/>
<circle cx="418.0" cy="184.0" r="9.4" fill="#243420"/>
<circle cx="509.0" cy="184.0" r="9.4" fill="#243420"/>
<circle cx="599.4" cy="183.6" r="9.4" fill="#243420"/>
<circle cx="689.7" cy="183.6" r="9.4" fill="#243420"/>
<circle cx="461.6" cy="211.0" r="9.4" fill="#243420"/>
<circle cx="553.2" cy="210.5" r="9.4" fill="#243420"/>
<circle cx="645.0" cy="210.0" r="9.4" fill="#243420"/>
<circle cx="372.0" cy="53.5" r="9.4" fill="#243420"/>
<circle cx="372.0" cy="105.5" r="9.4" fill="#243420"/>
<circle cx="372.0" cy="211.0" r="9.4" fill="#243420"/>
<circle cx="736.0" cy="53.5" r="9.4" fill="#243420"/>
<circle cx="736.0" cy="105.0" r="9.4" fill="#243420"/>
<circle cx="736.0" cy="210.0" r="9.4" fill="#243420"/>
<circle cx="418.0" cy="-25.0" r="9.4" fill="#243420"/>
<circle cx="509.0" cy="-25.0" r="9.4" fill="#243420"/>
<circle cx="599.0" cy="-25.0" r="9.4" fill="#243420"/>
<circle cx="689.0" cy="-25.0" r="9.4" fill="#243420"/>
<circle cx="418.0" cy="262.0" r="9.4" fill="#243420"/>
<circle cx="509.0" cy="262.0" r="9.4" fill="#243420"/>
<circle cx="599.0" cy="262.0" r="9.4" fill="#243420"/>
<circle cx="689.0" cy="262.0" r="9.4" fill="#243420"/>
<circle cx="509.0" cy="132.0" r="9.4" fill="#243420"/>
</g>
<circle cx="416.7" cy="26.5" r="10" fill="url(#aB)"/>
<circle cx="509.0" cy="26.5" r="10" fill="url(#aB)"/>
<circle cx="599.4" cy="26.3" r="10" fill="url(#aB)"/>
<circle cx="689.7" cy="26.3" r="10" fill="url(#aB)"/>
<circle cx="462.9" cy="53.5" r="10" fill="url(#aB)"/>
<circle cx="553.2" cy="53.6" r="10" fill="url(#aB)"/>
<circle cx="645.0" cy="53.7" r="10" fill="url(#aB)"/>
<circle cx="462.9" cy="105.5" r="10" fill="url(#aB)"/>
<circle cx="553.2" cy="105.3" r="10" fill="url(#aB)"/>
<circle cx="645.0" cy="105.0" r="10" fill="url(#aB)"/>
<circle cx="418.0" cy="132.0" r="10" fill="url(#aB)"/>
<circle cx="599.4" cy="132.0" r="10" fill="url(#aB)"/>
<circle cx="689.7" cy="132.0" r="10" fill="url(#aB)"/>
<circle cx="418.0" cy="184.0" r="10" fill="url(#aB)"/>
<circle cx="509.0" cy="184.0" r="10" fill="url(#aB)"/>
<circle cx="599.4" cy="183.6" r="10" fill="url(#aB)"/>
<circle cx="689.7" cy="183.6" r="10" fill="url(#aB)"/>
<circle cx="461.6" cy="211.0" r="10" fill="url(#aB)"/>
<circle cx="553.2" cy="210.5" r="10" fill="url(#aB)"/>
<circle cx="645.0" cy="210.0" r="10" fill="url(#aB)"/>
<circle cx="372.0" cy="53.5" r="10" fill="url(#aB)"/>
<circle cx="372.0" cy="105.5" r="10" fill="url(#aB)"/>
<circle cx="372.0" cy="211.0" r="10" fill="url(#aB)"/>
<circle cx="736.0" cy="53.5" r="10" fill="url(#aB)"/>
<circle cx="736.0" cy="105.0" r="10" fill="url(#aB)"/>
<circle cx="736.0" cy="210.0" r="10" fill="url(#aB)"/>
<circle cx="418.0" cy="-25.0" r="10" fill="url(#aB)"/>
<circle cx="509.0" cy="-25.0" r="10" fill="url(#aB)"/>
<circle cx="599.0" cy="-25.0" r="10" fill="url(#aB)"/>
<circle cx="689.0" cy="-25.0" r="10" fill="url(#aB)"/>
<circle cx="418.0" cy="262.0" r="10" fill="url(#aB)"/>
<circle cx="509.0" cy="262.0" r="10" fill="url(#aB)"/>
<circle cx="599.0" cy="262.0" r="10" fill="url(#aB)"/>
<circle cx="689.0" cy="262.0" r="10" fill="url(#aB)"/>
<circle cx="509.0" cy="132.0" r="10" fill="url(#aB)"/>
</g>
<text x="465.6" y="159.5" font-family="'Liberation Sans',sans-serif" font-weight="bold" font-size="26" fill="#0a0a0a">N</text>
<g font-family="'Liberation Serif',serif" font-size="32" fill="#111" stroke="#111" stroke-width="0.35">
<text x="3.2" y="24.2">a<tspan font-size="29.8" dy="-0.5">)</tspan></text>
<text x="2.4" y="273.5" font-size="31.6">b<tspan font-size="29.8" dy="-0.5">)</tspan></text>
<text x="3.2" y="754.6">c<tspan font-size="29.8" dy="-0.5">)</tspan></text>
</g>
<path d="M92.8,255.2 H680.3 V661.0 H92.8 Z" fill="none" stroke="#0d0d0d" stroke-width="1.80"/>
<path d="M89.3,255.2 H92.8 M84.8,661.0 H92.8" stroke="#0d0d0d" stroke-width="1.80"/>
<path d="M92.8,661.0 v7.6M129.5,661.0 v3.8M166.2,661.0 v7.6M203.0,661.0 v3.8M239.7,661.0 v7.6M276.4,661.0 v3.8M313.1,661.0 v7.6M349.8,661.0 v3.8M386.6,661.0 v7.6M423.3,661.0 v3.8M460.0,661.0 v7.6M496.7,661.0 v3.8M533.4,661.0 v7.6M570.1,661.0 v3.8M606.9,661.0 v7.6M643.6,661.0 v3.8M680.3,661.0 v7.6M92.8,661.0 h-8M92.8,615.9 h-4.2M92.8,570.8 h-8M92.8,525.6 h-4.2M92.8,480.5 h-8M92.8,435.4 h-4.2M92.8,390.2 h-8M92.8,345.1 h-4.2M92.8,300.0 h-8" stroke="#0d0d0d" stroke-width="1.60" fill="none"/>
<g font-family="'Liberation Sans',sans-serif" font-weight="bold" font-size="14.3" fill="#0d0d0d" stroke="#0d0d0d" stroke-width="0.25">
<text x="92.2" y="684.0" text-anchor="middle">-4</text>
<text x="165.6" y="684.0" text-anchor="middle">-3</text>
<text x="239.1" y="684.0" text-anchor="middle">-2</text>
<text x="312.5" y="684.0" text-anchor="middle">-1</text>
<text x="386.6" y="684.0" text-anchor="middle">0</text>
<text x="460.0" y="684.0" text-anchor="middle">1</text>
<text x="533.4" y="684.0" text-anchor="middle">2</text>
<text x="606.9" y="684.0" text-anchor="middle">3</text>
<text x="680.3" y="684.0" text-anchor="middle">4</text>
</g>
<g font-family="'Liberation Sans',sans-serif" font-weight="normal" font-size="14.0" fill="#0d0d0d" stroke="#0d0d0d" stroke-width="0.85">
<text x="58.3" y="677.0" textLength="28.0" lengthAdjust="spacingAndGlyphs">0.00</text>
<text x="58.3" y="586.8" textLength="28.0" lengthAdjust="spacingAndGlyphs">0.05</text>
<text x="58.3" y="496.5" textLength="28.0" lengthAdjust="spacingAndGlyphs">0.10</text>
<text x="58.3" y="406.2" textLength="28.0" lengthAdjust="spacingAndGlyphs">0.15</text>
<text x="58.3" y="316.0" textLength="28.0" lengthAdjust="spacingAndGlyphs">0.20</text>
</g>
<g font-family="'Liberation Sans',sans-serif" fill="#0d0d0d" stroke="#0d0d0d" stroke-linejoin="round">
<text x="365.8" y="711.9" font-size="20.8" textLength="52.0" lengthAdjust="spacingAndGlyphs"><tspan font-weight="bold" stroke-width="0">E</tspan><tspan font-weight="normal" stroke-width="0.7">(eV)</tspan></text>
<text transform="translate(45.3,574.8) rotate(-90)" font-size="20.7" font-weight="normal" stroke-width="1.0" textLength="204.4" lengthAdjust="spacingAndGlyphs">DOS(states/ev/atom)</text>
</g>
<path d="M93.3,374.3C93.7,377.2 94.7,387.6 95.5,392.0C96.3,396.4 97.5,399.1 98.1,400.7C98.7,402.3 98.9,401.6 99.3,401.7C99.7,401.8 99.5,402.1 100.5,401.1C101.5,400.2 103.4,398.5 105.0,396.0C106.6,393.5 108.5,388.5 110.0,386.0C111.5,383.5 113.3,382.1 114.2,381.2C115.1,380.3 115.0,380.7 115.4,380.7C115.8,380.7 115.8,380.2 116.6,381.4C117.4,382.6 118.8,384.9 120.0,388.0C121.2,391.1 122.9,397.0 124.0,400.0C125.1,403.0 125.8,404.7 126.4,405.8C127.0,406.8 127.2,406.4 127.6,406.4C128.0,406.4 128.2,407.0 128.8,405.6C129.4,404.2 130.2,400.8 131.0,398.0C131.8,395.2 132.8,390.5 133.4,388.8C134.0,387.1 134.2,387.8 134.6,387.8C135.0,387.8 135.1,387.2 135.8,388.7C136.4,390.3 137.5,394.0 138.5,397.0C139.5,400.0 141.2,404.7 142.0,406.4C142.8,408.2 142.8,407.4 143.2,407.5C143.6,407.6 143.4,408.0 144.4,406.8C145.4,405.5 147.4,402.4 149.0,400.0C150.6,397.6 152.8,393.7 153.8,392.3C154.8,390.8 154.6,391.5 155.0,391.4C155.4,391.3 155.6,391.2 156.2,391.8C156.8,392.4 157.6,393.6 158.5,395.0C159.4,396.4 160.5,400.8 161.4,400.0C162.3,399.2 163.1,393.6 164.0,390.0C164.9,386.4 166.1,378.8 166.8,378.1C167.5,377.4 167.8,382.4 168.3,386.0C168.8,389.6 169.2,394.3 169.6,400.0C170.0,405.7 170.4,412.9 171.0,420.0C171.6,427.1 172.2,435.1 172.9,442.9C173.6,450.7 174.4,459.1 175.2,467.0C176.0,474.9 176.9,484.7 177.6,490.0C178.3,495.3 178.7,496.7 179.3,499.0C179.9,501.3 180.1,503.2 181.0,503.9C181.9,504.6 183.5,503.5 185.0,503.0C186.5,502.5 187.4,502.3 190.0,500.7C192.6,499.1 197.7,495.2 200.7,493.2C203.7,491.2 206.4,490.3 208.2,488.9C210.0,487.4 210.6,486.1 211.5,484.5C212.4,482.9 212.7,483.0 213.6,479.3C214.5,475.6 216.0,470.0 216.8,462.1C217.6,454.2 217.8,442.5 218.3,432.1C218.8,421.8 219.4,412.0 220.0,400.0C220.6,388.0 221.2,373.3 221.8,360.0C222.4,346.7 222.9,329.6 223.5,320.0C224.1,310.4 224.7,302.8 225.3,302.5C225.9,302.2 226.4,310.9 227.0,318.0C227.6,325.1 228.1,331.3 228.7,345.0C229.3,358.7 230.0,386.6 230.7,400.0C231.4,413.4 232.1,418.2 232.9,425.7C233.7,433.2 234.7,442.6 235.4,445.0C236.1,447.4 236.3,442.9 237.0,440.0C237.7,437.1 238.5,431.9 239.3,427.9C240.1,423.9 241.1,419.1 242.0,416.0C242.9,412.9 243.8,409.5 244.6,409.0C245.4,408.5 246.1,410.6 247.0,413.0C247.9,415.4 248.8,418.6 250.0,423.6C251.2,428.6 252.9,435.8 254.3,442.9C255.7,450.0 257.2,459.3 258.6,466.4C260.0,473.5 261.5,480.9 262.9,485.7C264.3,490.5 265.6,492.1 267.0,495.0C268.4,497.9 270.1,500.4 271.4,502.9C272.7,505.4 272.5,505.6 274.6,510.0C276.8,514.4 281.2,524.1 284.3,529.3C287.4,534.5 290.4,536.5 292.9,541.1C295.4,545.7 297.0,552.5 299.3,557.1C301.6,561.7 304.8,565.0 306.8,568.9C308.8,572.8 310.1,578.0 311.1,580.7C312.2,583.4 312.6,584.1 313.1,584.9C313.6,585.7 313.9,585.5 314.3,585.4C314.7,585.3 314.8,586.0 315.5,584.5C316.2,583.0 317.6,578.7 318.6,576.4C319.6,574.1 321.0,571.7 321.7,570.6C322.4,569.6 322.5,569.9 322.9,570.0C323.3,570.1 323.6,569.1 324.1,571.3C324.6,573.4 325.2,578.4 326.1,582.9C327.0,587.4 328.5,595.5 329.2,598.4C329.9,601.2 330.0,599.8 330.4,600.0C330.8,600.2 330.9,600.4 331.6,599.4C332.3,598.3 333.5,595.5 334.6,593.6C335.7,591.7 337.6,589.2 338.4,588.2C339.2,587.2 339.2,587.6 339.6,587.6C340.0,587.6 340.0,587.1 340.8,588.4C341.6,589.8 342.7,592.0 344.3,595.7C345.9,599.4 348.6,606.8 350.7,610.7C352.8,614.6 355.3,617.2 357.1,619.3C358.9,621.4 360.4,622.5 361.3,623.2C362.2,623.9 362.1,623.7 362.5,623.6C362.9,623.5 362.8,624.1 363.7,622.9C364.6,621.6 366.5,618.0 367.9,616.1C369.3,614.2 371.1,612.1 372.0,611.2C372.9,610.3 372.8,610.7 373.2,610.7C373.6,610.7 373.5,610.2 374.4,611.4C375.3,612.6 377.2,615.4 378.6,617.9C380.0,620.4 381.3,623.7 382.9,626.4C384.5,629.1 386.1,631.6 388.2,633.9C390.3,636.2 393.0,638.1 395.7,640.4C398.4,642.7 401.4,645.4 404.3,647.9C407.2,650.4 410.6,653.5 412.9,655.4C415.2,657.3 417.0,658.4 418.1,659.1C419.2,659.8 418.9,659.5 419.3,659.5C419.7,659.5 419.4,659.8 420.5,659.1C421.6,658.4 422.7,657.8 425.7,655.4C428.7,653.0 434.3,648.4 438.6,644.6C442.9,640.9 447.1,636.8 451.4,632.9C455.7,629.0 460.0,625.2 464.3,621.1C468.6,617.0 473.2,612.5 477.1,608.2C481.0,603.9 484.3,600.0 487.9,595.4C491.5,590.8 495.4,585.6 498.6,580.4C501.8,575.2 504.6,569.5 507.1,564.3C509.6,559.1 511.6,555.0 513.6,549.3C515.6,543.6 517.6,535.0 518.9,530.0C520.2,525.0 520.3,525.4 521.4,519.3C522.5,513.2 524.5,502.5 525.7,493.6C527.0,484.7 528.0,474.6 528.9,465.7C529.8,456.8 530.3,448.2 531.1,440.0C531.9,431.8 532.9,424.2 533.9,416.4C534.9,408.5 536.2,398.9 537.1,392.9C538.0,386.9 538.6,382.6 539.2,380.3C539.7,378.0 540.0,378.9 540.4,378.9C540.8,378.9 541.1,378.1 541.6,380.1C542.1,382.0 542.7,385.0 543.6,390.7C544.5,396.4 545.7,406.1 546.8,414.3C547.9,422.5 549.1,432.1 550.4,440.0C551.7,447.9 553.2,454.8 554.6,461.4C556.0,468.0 557.9,475.6 558.9,479.6C559.9,483.6 560.4,484.4 560.9,485.5C561.4,486.5 561.7,486.1 562.1,486.1C562.5,486.1 562.6,486.4 563.3,485.7C564.0,485.0 565.4,482.8 566.4,481.8C567.4,480.8 568.4,480.2 569.1,479.8C569.7,479.5 569.9,479.6 570.3,479.6C570.7,479.6 570.9,479.3 571.5,480.0C572.1,480.7 572.6,481.3 573.9,483.9C575.2,486.5 577.1,492.3 579.3,495.7C581.4,499.1 584.5,500.7 586.8,504.3C589.1,507.9 591.2,513.2 593.2,517.1C595.2,521.0 596.6,524.6 598.6,527.9C600.6,531.2 603.8,535.5 605.1,537.2C606.4,538.9 605.9,538.2 606.3,538.2C606.7,538.2 606.8,538.7 607.5,537.4C608.2,536.1 609.4,532.5 610.4,530.5C611.4,528.5 612.6,526.5 613.3,525.5C614.0,524.6 614.1,525.1 614.5,525.0C614.9,524.9 615.1,524.9 615.7,525.2C616.3,525.5 617.3,525.9 618.3,526.9C619.2,527.9 620.1,530.3 621.4,531.2C622.7,532.1 624.4,531.7 626.1,532.4C627.8,533.1 630.0,534.9 631.6,535.6C633.2,536.3 633.9,535.8 635.6,536.8C637.3,537.8 640.1,540.4 641.9,541.5C643.7,542.6 644.9,542.7 646.6,543.4C648.3,544.1 650.4,545.4 652.1,545.8C653.8,546.2 655.5,545.3 656.8,545.8C658.1,546.3 658.9,547.6 659.9,548.9C660.9,550.2 662.0,552.9 662.7,553.9C663.4,554.8 663.5,554.3 663.9,554.4C664.3,554.5 664.6,554.5 665.1,554.3C665.6,554.2 666.4,554.0 667.0,553.6C667.6,553.2 668.4,552.3 668.9,552.0C669.4,551.7 669.7,551.8 670.1,551.8C670.5,551.8 670.6,551.7 671.3,552.0C672.0,552.3 673.1,553.2 674.1,553.6C675.1,554.0 676.2,554.2 677.2,554.1C678.2,554.0 679.5,553.4 680.0,553.2" fill="none" stroke="#0d0d0d" stroke-width="2.00" stroke-linejoin="round"/>
<path d="M93.3,395.7C96.4,396.6 104.7,399.5 112.1,401.0C119.5,402.5 132.2,403.8 137.9,404.7C143.6,405.6 144.5,405.2 146.4,406.4C148.3,407.6 148.7,409.5 149.5,412.0C150.3,414.5 150.6,416.2 151.4,421.4C152.2,426.5 153.6,434.7 154.6,442.9C155.6,451.1 156.5,463.2 157.4,470.7C158.3,478.2 159.0,483.4 160.0,487.9C161.0,492.4 161.8,495.8 163.2,497.5C164.6,499.2 167.3,497.9 168.4,498.0C169.5,498.1 169.2,498.2 169.6,498.1C170.0,498.0 169.4,498.7 170.8,497.2C172.2,495.6 175.7,491.3 178.2,488.9C180.7,486.5 183.0,485.2 185.7,482.5C188.4,479.8 191.6,477.4 194.3,472.9C197.0,468.4 199.7,461.8 201.8,455.7C203.9,449.6 205.5,443.2 207.1,436.4C208.7,429.6 210.3,421.8 211.4,415.0C212.5,408.2 213.0,401.9 213.9,395.7C214.8,389.4 215.8,379.9 216.7,377.5C217.5,375.1 218.2,378.7 219.0,381.0C219.8,383.3 220.7,387.5 221.4,391.4C222.1,395.3 222.5,398.6 223.2,404.3C223.9,410.0 224.5,417.9 225.4,425.7C226.3,433.5 227.3,443.2 228.6,451.4C229.8,459.6 231.1,467.1 232.9,475.0C234.7,482.9 237.0,491.5 239.3,498.6C241.6,505.8 244.1,511.8 246.8,517.9C249.5,524.0 252.4,529.7 255.4,535.0C258.4,540.3 261.2,544.1 265.0,549.6C268.8,555.1 273.2,562.0 277.9,567.9C282.5,573.8 287.4,579.3 292.9,585.0C298.4,590.7 305.2,596.8 311.1,602.1C317.0,607.5 321.9,611.9 328.2,617.1C334.4,622.3 341.6,628.0 348.6,633.2C355.6,638.4 365.0,644.8 370.0,648.5C375.0,652.2 376.1,653.7 378.6,655.5C381.1,657.3 383.6,658.7 384.8,659.4C386.0,660.1 385.6,659.8 386.0,659.8C386.4,659.8 385.9,660.0 387.2,659.5C388.5,658.9 390.8,658.3 393.6,656.4C396.5,654.5 400.7,650.9 404.3,647.9C407.9,644.9 411.1,641.6 415.0,638.2C418.9,634.8 423.6,631.2 427.9,627.5C432.2,623.8 436.4,620.0 440.7,615.7C445.0,611.4 449.7,606.4 453.6,601.8C457.5,597.2 461.1,592.7 464.3,587.9C467.5,583.1 470.0,578.3 472.9,572.9C475.8,567.5 478.9,561.4 481.4,555.7C483.9,550.0 485.7,545.0 487.9,538.6C490.1,532.2 492.8,524.6 494.6,517.1C496.4,509.6 497.6,501.8 498.9,493.6C500.1,485.4 501.2,478.2 502.1,467.9C503.0,457.6 503.7,443.1 504.5,432.0C505.3,420.9 505.9,412.9 506.7,401.4C507.5,389.9 508.5,372.5 509.3,362.9C510.1,353.3 510.5,345.4 511.4,343.6C512.3,341.8 513.7,347.1 514.6,352.1C515.5,357.1 516.1,365.4 516.8,373.6C517.5,381.8 518.0,392.5 518.9,401.4C519.8,410.3 520.9,419.2 522.1,427.1C523.4,435.0 525.3,442.9 526.4,448.6C527.5,454.3 527.6,456.8 528.9,461.4C530.2,466.0 531.8,470.7 534.3,476.4C536.8,482.1 540.0,489.8 543.9,495.7C547.8,501.6 552.7,507.0 557.9,511.8C563.1,516.6 569.3,520.9 575.0,524.6C580.7,528.4 586.7,531.6 592.1,534.3C597.5,537.0 603.7,539.6 607.3,541.0C610.9,542.4 610.9,541.6 613.6,542.6C616.4,543.6 620.8,545.7 623.8,546.9C626.8,548.1 628.6,548.8 631.6,550.0C634.6,551.2 638.9,553.3 641.9,554.1C644.9,554.9 646.8,554.2 649.7,554.7C652.6,555.2 656.2,556.2 659.1,557.3C662.0,558.3 664.1,560.0 667.0,561.0C669.9,562.0 674.2,562.6 676.4,563.1C678.6,563.6 679.4,563.8 680.0,563.9" fill="none" stroke="#0d0d0d" stroke-width="2.00" stroke-dasharray="9.5 10" stroke-dashoffset="0"/>
<rect x="441.0" y="266.0" width="225.0" height="46.5" fill="#fff" stroke="#3a3a3a" stroke-width="0.9"/>
<path d="M441.8,277.0 h44.4" stroke="#0d0d0d" stroke-width="1.6" stroke-dasharray="8.6 8.8"/>
<path d="M441.8,302.4 h44.4" stroke="#0d0d0d" stroke-width="1.6"/>
<g font-family="'Liberation Sans',sans-serif" font-weight="bold" font-size="19.3" fill="#0d0d0d" stroke="#0d0d0d" stroke-width="0" stroke-linejoin="round">
<text x="492.3" y="283.6" textLength="135.5" lengthAdjust="spacingAndGlyphs">pure graphene</text>
<text x="492.3" y="307.2" textLength="172.0" lengthAdjust="spacingAndGlyphs">B-doped graphene</text>
</g>
<path d="M92.4,733.8 H677.0 V1136.8 H92.4 Z" fill="none" stroke="#0d0d0d" stroke-width="1.80"/>
<path d="M88.9,733.8 H92.4 M84.4,1136.8 H92.4" stroke="#0d0d0d" stroke-width="1.80"/>
<path d="M92.4,1136.8 v7.6M128.9,1136.8 v3.8M165.5,1136.8 v7.6M202.0,1136.8 v3.8M238.6,1136.8 v7.6M275.1,1136.8 v3.8M311.6,1136.8 v7.6M348.2,1136.8 v3.8M384.7,1136.8 v7.6M421.2,1136.8 v3.8M457.8,1136.8 v7.6M494.3,1136.8 v3.8M530.9,1136.8 v7.6M567.4,1136.8 v3.8M603.9,1136.8 v7.6M640.5,1136.8 v3.8M677.0,1136.8 v7.6M92.4,1136.8 h-8M92.4,1092.1 h-4.2M92.4,1047.4 h-8M92.4,1002.7 h-4.2M92.4,958.0 h-8M92.4,913.4 h-4.2M92.4,868.7 h-8M92.4,824.0 h-4.2M92.4,779.3 h-8" stroke="#0d0d0d" stroke-width="1.60" fill="none"/>
<g font-family="'Liberation Sans',sans-serif" font-weight="bold" font-size="14.8" fill="#0d0d0d" stroke="#0d0d0d" stroke-width="0.25">
<text x="91.8" y="1161.6" text-anchor="middle">-4</text>
<text x="164.9" y="1161.6" text-anchor="middle">-3</text>
<text x="238.0" y="1161.6" text-anchor="middle">-2</text>
<text x="311.0" y="1161.6" text-anchor="middle">-1</text>
<text x="384.7" y="1161.6" text-anchor="middle">0</text>
<text x="457.8" y="1161.6" text-anchor="middle">1</text>
<text x="530.9" y="1161.6" text-anchor="middle">2</text>
<text x="603.9" y="1161.6" text-anchor="middle">3</text>
<text x="677.0" y="1161.6" text-anchor="middle">4</text>
</g>
<g font-family="'Liberation Sans',sans-serif" font-weight="normal" font-size="15.6" fill="#0d0d0d" stroke="#0d0d0d" stroke-width="0.7">
<text x="53.2" y="1154.6" textLength="30.3" lengthAdjust="spacingAndGlyphs">0.00</text>
<text x="53.2" y="1065.2" textLength="30.3" lengthAdjust="spacingAndGlyphs">0.05</text>
<text x="53.2" y="975.8" textLength="30.3" lengthAdjust="spacingAndGlyphs">0.10</text>
<text x="53.2" y="886.5" textLength="30.3" lengthAdjust="spacingAndGlyphs">0.15</text>
<text x="53.2" y="797.1" textLength="30.3" lengthAdjust="spacingAndGlyphs">0.20</text>
</g>
<g font-family="'Liberation Sans',sans-serif" fill="#0d0d0d" stroke="#0d0d0d" stroke-linejoin="round">
<text x="366.6" y="1183.8" font-size="18.8" textLength="53.2" lengthAdjust="spacingAndGlyphs"><tspan font-weight="bold" stroke-width="0">E</tspan><tspan font-weight="normal" stroke-width="0.7">(eV)</tspan></text>
<text transform="translate(36.9,1045.6) rotate(-90)" font-size="19.7" font-weight="normal" stroke-width="1.0" textLength="199.6" lengthAdjust="spacingAndGlyphs">DOS(states/ev/atom)</text>
</g>
<path d="M93.3,873.9C93.9,875.9 95.8,882.2 97.1,885.7C98.4,889.2 100.4,893.3 101.3,895.0C102.2,896.7 102.1,896.0 102.5,896.0C102.9,896.0 103.0,896.5 103.7,895.2C104.4,893.8 105.8,890.3 106.8,887.9C107.8,885.5 109.2,881.9 109.9,880.5C110.6,879.2 110.7,879.7 111.1,879.7C111.5,879.7 111.8,879.0 112.3,880.7C112.8,882.4 113.5,886.9 114.3,890.0C115.1,893.1 116.7,897.8 117.4,899.6C118.1,901.4 118.2,900.7 118.6,900.7C119.0,900.7 119.1,901.3 119.8,899.7C120.5,898.1 122.1,893.3 122.9,891.1C123.8,888.9 124.4,887.4 124.9,886.6C125.4,885.8 125.7,886.0 126.1,886.1C126.5,886.2 126.8,885.6 127.3,886.9C127.8,888.3 128.4,888.8 129.3,894.3C130.2,899.8 131.6,911.2 132.5,920.0C133.4,928.8 134.1,939.5 134.8,947.0C135.6,954.5 136.1,959.9 137.0,965.0C137.9,970.1 139.1,975.0 140.0,977.9C140.9,980.8 141.8,981.2 142.5,982.5C143.2,983.8 144.0,985.1 144.5,985.7C145.0,986.3 145.3,986.2 145.7,986.1C146.1,986.0 146.2,986.6 146.9,985.4C147.6,984.3 148.6,982.8 150.0,979.3C151.4,975.8 153.4,969.3 155.4,964.3C157.4,959.3 160.0,953.0 161.8,949.3C163.6,945.5 165.0,943.4 166.1,941.8C167.2,940.2 167.6,940.2 168.1,939.8C168.6,939.5 168.9,939.6 169.3,939.6C169.7,939.6 169.8,939.3 170.5,940.0C171.2,940.7 172.6,942.6 173.6,943.9C174.6,945.2 175.6,947.1 176.2,947.8C176.8,948.5 177.0,948.3 177.4,948.2C177.8,948.1 178.1,948.8 178.6,947.3C179.1,945.7 179.8,941.9 180.5,939.0C181.2,936.1 181.8,933.9 182.6,930.0C183.3,926.1 183.9,920.9 185.0,915.7C186.1,910.5 188.1,903.1 189.3,898.6C190.6,894.1 191.5,891.0 192.5,888.9C193.5,886.8 194.2,885.2 195.1,886.1C196.0,887.0 196.7,888.6 197.9,894.3C199.1,899.9 200.8,912.3 202.1,920.0C203.4,927.7 204.4,934.0 205.7,940.7C207.0,947.4 208.4,953.6 210.0,960.0C211.6,966.4 213.6,973.6 215.4,979.3C217.2,985.0 218.4,988.9 220.7,994.3C223.0,999.6 226.6,1006.2 229.3,1011.4C232.0,1016.6 234.0,1020.9 236.8,1025.4C239.7,1029.9 243.2,1033.8 246.4,1038.2C249.6,1042.7 253.2,1048.3 256.1,1052.1C259.0,1055.8 260.3,1057.4 263.6,1060.7C266.9,1064.0 272.1,1068.2 275.7,1071.8C279.3,1075.4 282.0,1079.5 285.4,1082.5C288.8,1085.5 292.7,1087.5 296.1,1090.0C299.5,1092.5 302.7,1095.3 305.7,1097.5C308.7,1099.7 311.1,1100.4 314.3,1102.9C317.5,1105.4 321.4,1109.5 325.0,1112.5C328.6,1115.5 332.1,1118.2 335.7,1121.1C339.3,1123.9 343.2,1127.2 346.4,1129.6C349.6,1132.0 353.3,1134.3 354.9,1135.4C356.5,1136.4 355.7,1136.0 356.1,1136.0C356.5,1136.0 355.7,1136.5 357.3,1135.3C358.9,1134.0 362.5,1131.5 365.7,1128.6C368.9,1125.7 373.0,1121.3 376.4,1117.9C379.8,1114.5 383.6,1111.4 386.1,1108.2C388.6,1105.0 389.8,1101.8 391.4,1098.6C393.0,1095.4 394.6,1091.1 395.7,1088.9C396.8,1086.7 397.6,1086.3 398.2,1085.7C398.8,1085.1 399.0,1085.3 399.4,1085.3C399.8,1085.3 400.0,1084.9 400.6,1085.9C401.2,1086.8 402.1,1089.2 403.2,1091.1C404.3,1093.0 406.5,1096.2 407.4,1097.4C408.3,1098.6 408.2,1098.1 408.6,1098.1C409.0,1098.1 408.9,1098.4 409.8,1097.6C410.7,1096.8 412.3,1095.0 413.9,1093.2C415.5,1091.4 417.7,1090.2 419.3,1086.8C420.9,1083.4 422.4,1077.2 423.6,1072.9C424.9,1068.6 425.9,1063.7 426.8,1061.1C427.7,1058.5 428.3,1057.9 428.8,1057.2C429.3,1056.5 429.6,1056.8 430.0,1056.8C430.4,1056.8 430.7,1056.5 431.2,1057.2C431.7,1057.9 432.3,1059.3 433.2,1061.1C434.1,1062.9 435.6,1066.6 436.3,1067.8C437.0,1069.1 437.1,1068.7 437.5,1068.6C437.9,1068.5 438.2,1069.5 438.7,1067.3C439.2,1065.2 439.8,1059.8 440.7,1055.7C441.6,1051.6 443.0,1045.7 443.9,1042.9C444.8,1040.1 445.4,1039.7 445.9,1039.0C446.4,1038.3 446.7,1038.7 447.1,1038.6C447.5,1038.5 447.9,1038.6 448.3,1038.6C448.8,1038.7 449.4,1038.9 449.8,1039.0C450.2,1039.0 450.6,1039.1 451.0,1039.0C451.4,1038.9 451.4,1039.6 452.2,1038.1C453.0,1036.6 454.4,1033.8 455.7,1030.0C457.0,1026.2 458.8,1020.0 460.0,1015.0C461.2,1010.0 462.2,1005.1 463.2,1000.0C464.1,994.9 464.4,991.9 465.7,984.3C467.0,976.7 469.3,962.9 471.1,954.3C472.9,945.7 475.0,940.0 476.4,932.9C477.8,925.8 478.7,917.6 479.6,911.4C480.5,905.1 481.0,898.8 481.8,895.4C482.6,892.0 483.5,890.8 484.4,891.1C485.3,891.5 485.9,895.0 487.1,897.5C488.3,900.0 490.0,903.4 491.4,906.1C492.8,908.8 494.2,910.2 495.3,913.6C496.4,917.0 497.0,921.4 497.9,926.4C498.8,931.4 499.7,939.9 500.4,943.6C501.1,947.4 501.0,948.2 502.1,948.9C503.2,949.6 505.9,947.8 506.9,947.5C507.9,947.3 507.7,947.3 508.1,947.4C508.5,947.5 508.7,946.9 509.3,948.1C509.9,949.2 510.7,951.1 511.8,954.3C512.9,957.5 514.7,963.9 516.1,967.1C517.5,970.3 519.0,971.8 520.4,973.6C521.8,975.4 523.0,975.6 524.6,977.9C526.2,980.2 528.2,984.8 530.0,987.5C531.8,990.2 533.8,992.8 535.4,993.9C537.0,995.0 538.0,993.2 539.6,993.9C541.2,994.6 543.4,997.1 545.0,998.2C546.6,999.3 548.3,999.9 549.3,1000.4C550.2,1000.9 550.2,1000.7 550.7,1001.1C551.2,1001.5 551.6,1002.1 552.1,1002.8C552.6,1003.5 553.1,1004.5 553.6,1005.2C554.1,1005.9 554.5,1006.9 555.0,1007.2C555.5,1007.6 555.9,1007.5 556.4,1007.3C556.9,1007.1 557.3,1006.5 557.8,1006.2C558.3,1005.9 558.7,1005.4 559.2,1005.3C559.7,1005.2 560.2,1005.2 560.7,1005.6C561.2,1006.0 561.6,1006.7 562.1,1007.5C562.6,1008.3 563.0,1009.5 563.5,1010.4C564.0,1011.3 564.4,1012.4 564.9,1013.0C565.4,1013.6 565.8,1014.1 566.3,1014.3C566.8,1014.5 567.3,1014.3 567.8,1014.0C568.3,1013.7 568.7,1013.1 569.2,1012.7C569.7,1012.3 570.1,1011.9 570.6,1011.7C571.1,1011.6 571.5,1011.5 572.0,1011.8C572.5,1012.1 572.9,1012.8 573.4,1013.5C573.9,1014.2 574.4,1015.3 574.9,1016.2C575.4,1017.1 575.8,1018.2 576.3,1018.8C576.8,1019.4 577.2,1019.9 577.7,1020.0C578.2,1020.1 578.6,1020.0 579.1,1019.7C579.6,1019.4 580.0,1018.7 580.5,1018.3C581.0,1017.9 581.5,1017.4 582.0,1017.2C582.5,1017.0 582.9,1016.9 583.4,1017.2C583.9,1017.5 584.3,1018.1 584.8,1018.8C585.3,1019.5 585.7,1020.5 586.2,1021.4C586.7,1022.2 587.1,1023.3 587.6,1023.9C588.1,1024.5 588.6,1025.0 589.1,1025.1C589.6,1025.2 590.0,1024.9 590.5,1024.6C591.0,1024.3 591.4,1023.6 591.9,1023.1C592.4,1022.6 592.8,1022.0 593.3,1021.8C593.8,1021.6 594.2,1021.5 594.7,1021.7C595.2,1021.9 595.7,1022.5 596.2,1023.1C596.7,1023.7 597.1,1024.7 597.6,1025.5C598.1,1026.3 598.5,1027.3 599.0,1027.9C599.5,1028.5 599.9,1028.9 600.4,1029.0C600.9,1029.1 601.3,1028.8 601.8,1028.5C602.3,1028.2 602.8,1027.5 603.3,1027.0C603.8,1026.5 604.2,1025.9 604.7,1025.6C605.2,1025.3 605.6,1025.2 606.1,1025.4C606.6,1025.6 607.0,1026.1 607.5,1026.7C608.0,1027.3 608.4,1028.3 608.9,1029.1C609.4,1029.9 609.9,1030.8 610.4,1031.4C610.9,1032.0 611.3,1032.4 611.8,1032.5C612.3,1032.6 612.7,1032.4 613.2,1032.1C613.7,1031.8 614.1,1031.0 614.6,1030.5C615.1,1030.0 615.5,1029.4 616.0,1029.1C616.5,1028.8 617.0,1028.6 617.5,1028.8C618.0,1029.0 618.4,1029.4 618.9,1030.0C619.4,1030.6 619.8,1031.6 620.3,1032.4C620.8,1033.2 621.2,1034.1 621.7,1034.7C622.2,1035.3 622.6,1035.7 623.1,1035.8C623.6,1035.9 624.1,1035.7 624.6,1035.4C625.1,1035.1 625.5,1034.4 626.0,1033.9C626.5,1033.4 626.9,1032.7 627.4,1032.4C627.9,1032.1 628.3,1031.9 628.8,1032.1C629.3,1032.2 629.7,1032.7 630.2,1033.3C630.7,1033.9 631.2,1034.8 631.7,1035.6C632.2,1036.4 632.6,1037.3 633.1,1037.9C633.6,1038.5 634.0,1039.0 634.5,1039.1C635.0,1039.2 635.4,1038.9 635.9,1038.6C636.4,1038.3 636.8,1037.6 637.3,1037.1C637.8,1036.6 638.3,1035.8 638.8,1035.5C639.3,1035.2 639.7,1035.0 640.2,1035.1C640.7,1035.2 641.1,1035.6 641.6,1036.2C642.1,1036.8 642.5,1037.8 643.0,1038.5C643.5,1039.2 643.9,1040.1 644.4,1040.7C644.9,1041.3 645.4,1041.8 645.9,1041.9C646.4,1042.0 646.8,1041.7 647.3,1041.4C647.8,1041.1 648.2,1040.4 648.7,1039.9C649.2,1039.4 649.6,1038.7 650.1,1038.3C650.6,1037.9 651.0,1037.6 651.5,1037.7C652.0,1037.8 652.5,1038.2 653.0,1038.7C653.5,1039.2 653.9,1040.2 654.4,1040.9C654.9,1041.7 655.3,1042.6 655.8,1043.2C656.3,1043.8 656.7,1044.2 657.2,1044.3C657.7,1044.4 658.1,1044.1 658.6,1043.8C659.1,1043.5 659.6,1042.8 660.1,1042.2C660.6,1041.6 661.3,1040.7 661.5,1040.4" fill="none" stroke="#0d0d0d" stroke-width="2.00" stroke-linejoin="round"/>
<path d="M93.3,875.0C96.4,875.8 105.0,878.5 112.1,879.7C119.2,881.0 130.0,881.8 135.7,882.5C141.4,883.2 144.1,882.6 146.4,884.0C148.7,885.4 148.6,887.2 149.6,891.1C150.6,895.0 151.5,900.5 152.4,907.1C153.3,913.7 154.3,923.4 155.0,930.7C155.7,938.0 156.2,945.3 156.8,951.0C157.4,956.7 157.9,961.2 158.7,965.0C159.5,968.8 160.4,972.1 161.6,973.8C162.8,975.5 164.9,975.1 165.8,975.4C166.7,975.7 166.6,975.7 167.0,975.6C167.4,975.5 166.8,976.0 168.2,975.0C169.6,974.0 173.0,971.8 175.7,969.6C178.4,967.5 181.4,965.1 184.3,962.1C187.2,959.1 190.5,955.2 192.9,951.4C195.3,947.6 197.0,943.8 198.9,939.3C200.8,934.8 202.7,930.0 204.3,924.3C205.9,918.6 207.3,912.9 208.6,905.0C209.8,897.1 210.8,885.0 211.8,877.1C212.8,869.2 213.7,862.0 214.6,857.9C215.5,853.8 216.1,851.1 217.1,852.5C218.1,853.9 219.4,859.8 220.4,866.4C221.4,873.0 222.2,883.9 223.1,892.1C224.0,900.3 224.7,908.4 225.7,915.7C226.7,923.0 227.8,929.7 228.9,936.0C230.0,942.3 231.0,947.1 232.5,953.6C234.0,960.1 235.8,968.2 237.9,975.0C240.1,981.8 242.7,988.0 245.4,994.3C248.1,1000.5 250.5,1006.4 253.9,1012.5C257.3,1018.6 261.7,1025.1 265.7,1030.7C269.7,1036.3 273.4,1040.7 277.9,1046.1C282.4,1051.5 287.5,1057.5 292.9,1063.2C298.2,1068.9 304.3,1075.0 310.0,1080.4C315.7,1085.8 321.4,1091.0 327.1,1095.4C332.8,1099.9 339.3,1103.5 344.3,1107.1C349.3,1110.7 352.8,1113.6 357.1,1116.8C361.4,1120.0 366.1,1123.6 370.0,1126.4C373.9,1129.2 378.3,1132.4 380.7,1133.9C383.1,1135.4 383.5,1135.1 384.3,1135.4C385.1,1135.7 385.1,1135.6 385.5,1135.6C385.9,1135.6 385.7,1135.9 386.7,1135.2C387.7,1134.6 388.5,1134.0 391.4,1131.8C394.3,1129.6 398.9,1126.2 404.3,1122.1C409.7,1118.0 417.5,1112.3 423.6,1107.1C429.7,1101.9 435.4,1096.6 440.7,1091.1C446.0,1085.6 451.4,1079.3 455.7,1073.9C460.0,1068.5 462.8,1064.6 466.4,1058.9C470.0,1053.2 473.9,1046.4 477.1,1039.6C480.3,1032.8 483.4,1024.8 485.7,1018.2C488.0,1011.6 489.6,1006.4 491.1,1000.0C492.6,993.6 493.4,987.6 494.6,980.0C495.8,972.4 497.3,962.9 498.3,954.3C499.3,945.7 499.8,937.2 500.4,928.6C501.0,920.0 501.5,911.5 502.1,902.9C502.7,894.3 503.3,884.2 503.9,877.1C504.4,870.0 504.9,866.2 505.4,860.0C505.8,853.8 506.2,845.3 506.6,840.0C507.0,834.7 507.6,831.3 508.0,828.0C508.4,824.7 508.6,819.7 509.3,820.0C510.0,820.3 511.4,826.7 512.1,830.0C512.8,833.3 513.2,836.0 513.6,840.0C514.0,844.0 514.1,848.8 514.5,854.3C514.9,859.8 515.4,867.2 516.0,872.9C516.6,878.6 517.1,882.5 517.9,888.6C518.7,894.7 519.7,901.6 521.0,909.3C522.3,917.0 523.9,927.5 525.7,935.0C527.6,942.5 529.6,948.2 532.1,954.3C534.6,960.4 537.5,966.0 540.7,971.4C543.9,976.8 547.5,982.3 551.4,986.4C555.3,990.5 560.4,993.4 564.3,996.1C568.2,998.9 571.6,1001.1 574.6,1002.9C577.6,1004.7 579.1,1005.5 582.1,1007.1C585.1,1008.7 588.2,1010.5 592.9,1012.5C597.5,1014.5 605.4,1017.1 610.0,1018.9C614.6,1020.7 617.7,1021.8 620.7,1023.2C623.7,1024.6 625.2,1026.3 628.2,1027.5C631.2,1028.7 635.9,1029.8 638.9,1030.3C641.9,1030.8 643.4,1030.1 646.4,1030.7C649.4,1031.3 654.1,1032.8 657.1,1033.9C660.1,1035.1 663.4,1037.0 664.6,1037.6" fill="none" stroke="#0d0d0d" stroke-width="2.00" stroke-dasharray="9.5 10" stroke-dashoffset="0"/>
<rect x="417.0" y="744.4" width="243.6" height="50.6" fill="#fff" stroke="#3a3a3a" stroke-width="0.9"/>
<path d="M418.0,756.6 h44.4" stroke="#0d0d0d" stroke-width="1.6" stroke-dasharray="8.6 8.8"/>
<path d="M418.0,783.0 h48.0" stroke="#0d0d0d" stroke-width="1.6"/>
<g font-family="'Liberation Sans',sans-serif" font-weight="normal" font-size="18.8" fill="#0d0d0d" stroke="#0d0d0d" stroke-width="0.75" stroke-linejoin="round">
<text x="472.8" y="763.0" textLength="146.5" lengthAdjust="spacingAndGlyphs">pure graphene</text>
<text x="473.8" y="789.0" textLength="185.5" lengthAdjust="spacingAndGlyphs">N-doped graphene</text>
</g>
</svg>
</body></html>
